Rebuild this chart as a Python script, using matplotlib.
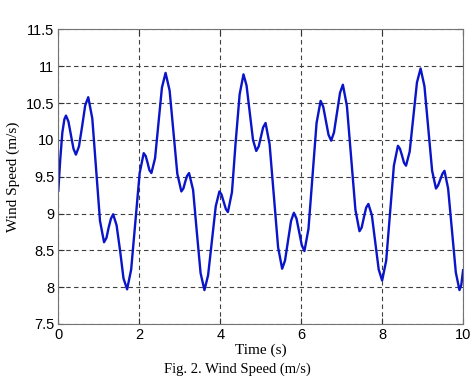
import numpy as np
import matplotlib
matplotlib.use("Agg")
import matplotlib.pyplot as plt

# wind speed trace (time in s, speed in m/s)
t = [0.0, 0.05, 0.10, 0.15, 0.19, 0.25, 0.31, 0.375, 0.435, 0.51, 0.59, 0.665, 0.74,
     0.84, 0.935, 1.03, 1.13, 1.19, 1.24, 1.30, 1.355, 1.44, 1.53, 1.61, 1.70,
     1.80, 1.905, 2.01, 2.11, 2.16, 2.205, 2.25, 2.30, 2.39, 2.475, 2.56, 2.65,
     2.75, 2.845, 2.94, 3.04, 3.09, 3.135, 3.18, 3.23, 3.33, 3.42, 3.515, 3.61,
     3.70, 3.795, 3.89, 3.98, 4.03, 4.085, 4.14, 4.19, 4.29, 4.38, 4.48, 4.575,
     4.65, 4.73, 4.81, 4.89, 4.95, 5.005, 5.06, 5.12, 5.22, 5.325, 5.43, 5.53,
     5.60, 5.675, 5.75, 5.82, 5.885, 5.95, 6.015, 6.08, 6.18, 6.28, 6.38, 6.48,
     6.545, 6.61, 6.675, 6.74, 6.81, 6.885, 6.96, 7.03, 7.13, 7.235, 7.34, 7.44,
     7.495, 7.55, 7.605, 7.66, 7.745, 7.83, 7.915, 8.0, 8.10, 8.195, 8.29, 8.39,
     8.44, 8.49, 8.54, 8.59, 8.68, 8.77, 8.86, 8.95, 9.045, 9.14, 9.235, 9.33,
     9.38, 9.435, 9.49, 9.54, 9.63, 9.725, 9.82, 9.91, 9.955, 10.0]
speed = [9.31, 9.75, 10.10, 10.28, 10.33, 10.25, 10.07, 9.88, 9.80, 9.91, 10.19, 10.47, 10.58,
         10.29, 9.60, 8.90, 8.61, 8.67, 8.80, 8.93, 8.99, 8.84, 8.48, 8.12, 7.97,
         8.24, 8.90, 9.55, 9.82, 9.78, 9.69, 9.59, 9.55, 9.75, 10.23, 10.71, 10.91,
         10.67, 10.10, 9.54, 9.30, 9.34, 9.43, 9.51, 9.55, 9.32, 8.76, 8.19, 7.96,
         8.16, 8.63, 9.10, 9.30, 9.26, 9.16, 9.06, 9.02, 9.29, 9.96, 10.62, 10.89,
         10.74, 10.37, 10.00, 9.85, 9.91, 10.04, 10.17, 10.23, 9.94, 9.24, 8.54, 8.25,
         8.36, 8.63, 8.90, 9.01, 8.93, 8.75, 8.57, 8.49, 8.79, 9.51, 10.23, 10.53,
         10.45, 10.26, 10.07, 9.99, 10.10, 10.37, 10.64, 10.75, 10.46, 9.76, 9.05, 8.76,
         8.81, 8.95, 9.08, 9.13, 8.98, 8.61, 8.24, 8.09, 8.36, 9.01, 9.65, 9.92,
         9.88, 9.79, 9.69, 9.65, 9.84, 10.31, 10.78, 10.97, 10.73, 10.16, 9.58, 9.34,
         9.38, 9.46, 9.54, 9.58, 9.34, 8.77, 8.20, 7.96, 8.03, 8.23]

xticks = [0, 2, 4, 6, 8, 10]
yticks = [7.5, 8, 8.5, 9, 9.5, 10, 10.5, 11, 11.5]
yticklabels = ["7.5", "8", "8.5", "9", "9.5", "10", "10.5", "11", "11.5"]

fig = plt.figure(figsize=(4.74, 3.78), dpi=100)
ax = fig.add_axes([0.123, 0.143, 0.854, 0.779])

ax.plot(t, speed, color="#0a14c8", lw=1.7, solid_joinstyle="round")

ax.set_xlim(0, 10)
ax.set_ylim(7.5, 11.5)
ax.set_xticks(xticks)
ax.set_yticks(yticks)
ax.set_yticklabels(yticklabels)
ax.grid(True, linestyle=(0, (4, 3)), color="0.25", lw=0.8)
ax.tick_params(direction="in", length=4, labelsize=10.5, top=True, right=True,
               colors="0.2", labelcolor="black", pad=3)
for lab in ax.get_xticklabels() + ax.get_yticklabels():
    lab.set_fontfamily("Liberation Sans")
for sp in ax.spines.values():
    sp.set_color("0.45")

ax.set_xlabel("Time (s)", family="Liberation Serif", fontsize=11, labelpad=1)
ax.set_ylabel("Wind Speed (m/s)", family="Liberation Serif", fontsize=11, labelpad=4)

fig.text(0.5, 0.024, "Fig. 2. Wind Speed (m/s)", ha="center", va="center",
         family="Liberation Serif", fontsize=10.5)

fig.savefig("out.png", dpi=100)
